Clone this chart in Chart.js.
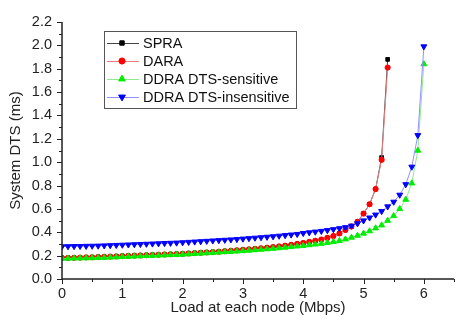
<!DOCTYPE html>
<html>
<head>
<meta charset="utf-8">
<script src="https://cdn.jsdelivr.net/npm/chart.js@4/dist/chart.umd.min.js"></script>
<style>
    html, body { margin: 0; padding: 0; background: #fff; }
    #wrap { width: 474px; height: 326px; }
</style>
</head>
<body>
<div id="wrap"><canvas id="chart" width="474" height="326"></canvas></div>
<script>
// load values (Mbps)
const loadsShort = [0.0, 0.1, 0.2, 0.3, 0.4, 0.5, 0.6, 0.7, 0.8, 0.9,
    1.0, 1.1, 1.2, 1.3, 1.4, 1.5, 1.6, 1.7, 1.8, 1.9,
    2.0, 2.1, 2.2, 2.3, 2.4, 2.5, 2.6, 2.7, 2.8, 2.9,
    3.0, 3.1, 3.2, 3.3, 3.4, 3.5, 3.6, 3.7, 3.8, 3.9,
    4.0, 4.1, 4.2, 4.3, 4.4, 4.5, 4.6, 4.7, 4.8, 4.9,
    5.0, 5.1, 5.2, 5.3, 5.4];
const loadsLong = [0.0, 0.1, 0.2, 0.3, 0.4, 0.5, 0.6, 0.7, 0.8, 0.9,
    1.0, 1.1, 1.2, 1.3, 1.4, 1.5, 1.6, 1.7, 1.8, 1.9,
    2.0, 2.1, 2.2, 2.3, 2.4, 2.5, 2.6, 2.7, 2.8, 2.9,
    3.0, 3.1, 3.2, 3.3, 3.4, 3.5, 3.6, 3.7, 3.8, 3.9,
    4.0, 4.1, 4.2, 4.3, 4.4, 4.5, 4.6, 4.7, 4.8, 4.9,
    5.0, 5.1, 5.2, 5.3, 5.4, 5.5, 5.6, 5.7, 5.8, 5.9, 6.0];

// system DTS (ms)
const spra = [0.180, 0.181, 0.182, 0.183, 0.185, 0.186, 0.188, 0.190, 0.192, 0.194,
    0.196, 0.198, 0.200, 0.202, 0.204, 0.206, 0.208, 0.210, 0.212, 0.214,
    0.216, 0.219, 0.222, 0.225, 0.228, 0.231, 0.234, 0.238, 0.242, 0.246,
    0.250, 0.254, 0.258, 0.263, 0.268, 0.273, 0.279, 0.285, 0.292, 0.300,
    0.308, 0.317, 0.327, 0.338, 0.352, 0.368, 0.390, 0.420, 0.450, 0.490,
    0.560, 0.640, 0.770, 1.040, 1.880];
const dara = [0.180, 0.181, 0.182, 0.183, 0.185, 0.186, 0.188, 0.190, 0.192, 0.194,
    0.196, 0.198, 0.200, 0.202, 0.204, 0.206, 0.208, 0.210, 0.212, 0.214,
    0.216, 0.219, 0.222, 0.225, 0.228, 0.231, 0.234, 0.238, 0.242, 0.246,
    0.250, 0.254, 0.258, 0.263, 0.268, 0.273, 0.279, 0.285, 0.292, 0.300,
    0.308, 0.317, 0.327, 0.338, 0.352, 0.368, 0.390, 0.420, 0.450, 0.490,
    0.560, 0.640, 0.770, 1.020, 1.810];
const ddraSens = [0.175, 0.176, 0.177, 0.178, 0.179, 0.180, 0.181, 0.183, 0.185, 0.187,
    0.190, 0.192, 0.194, 0.196, 0.198, 0.200, 0.202, 0.204, 0.206, 0.208,
    0.210, 0.213, 0.216, 0.219, 0.222, 0.225, 0.228, 0.231, 0.234, 0.237,
    0.240, 0.244, 0.248, 0.252, 0.256, 0.260, 0.265, 0.270, 0.275, 0.280,
    0.285, 0.291, 0.297, 0.303, 0.310, 0.318, 0.327, 0.340, 0.355, 0.372,
    0.390, 0.410, 0.435, 0.460, 0.500, 0.540, 0.600, 0.680, 0.820, 1.100, 1.840];
const ddraInsens = [0.278, 0.279, 0.280, 0.281, 0.282, 0.283, 0.284, 0.286, 0.288, 0.290,
    0.292, 0.294, 0.296, 0.298, 0.300, 0.302, 0.304, 0.306, 0.308, 0.310,
    0.313, 0.316, 0.319, 0.322, 0.325, 0.328, 0.331, 0.334, 0.337, 0.340,
    0.344, 0.348, 0.352, 0.356, 0.360, 0.364, 0.369, 0.374, 0.379, 0.384,
    0.392, 0.398, 0.404, 0.410, 0.417, 0.425, 0.433, 0.442, 0.455, 0.475,
    0.500, 0.525, 0.550, 0.580, 0.620, 0.660, 0.720, 0.810, 0.960, 1.230, 1.990];

const xTicks = [0, 1, 2, 3, 4, 5, 6];
const yTicks = [0.0, 0.2, 0.4, 0.6, 0.8, 1.0, 1.2, 1.4, 1.6, 1.8, 2.0, 2.2];

function pairs(xs, ys) {
    return ys.map((y, i) => ({ x: xs[i], y: y }));
}

const FONT = "'Liberation Sans', Arial, sans-serif";

// Axis lines, major/minor ticks drawn outward, and the boxed legend
const decorPlugin = {
    id: "decor",
    afterDraw(chart) {
        const ctx = chart.ctx;
        const area = chart.chartArea;
        const xs = chart.scales.x;
        const ys = chart.scales.y;
        ctx.save();
        ctx.strokeStyle = "#222";
        ctx.lineWidth = 1.5;
        ctx.beginPath();
        ctx.moveTo(area.left, area.top);
        ctx.lineTo(area.left, area.bottom);
        ctx.lineTo(area.right, area.bottom);
        ctx.stroke();

        ctx.lineWidth = 1;
        ctx.beginPath();
        for (let v = 0; v <= 6.5 + 1e-9; v += 0.5) {
            const px = Math.round(xs.getPixelForValue(v)) + 0.5;
            const len = Math.abs(v - Math.round(v)) < 1e-6 ? 5 : 3;
            ctx.moveTo(px, area.bottom);
            ctx.lineTo(px, area.bottom + len);
        }
        for (let v = 0; v <= 2.2 + 1e-9; v += 0.1) {
            const py = Math.round(ys.getPixelForValue(v)) + 0.5;
            const major = Math.abs(v * 5 - Math.round(v * 5)) < 1e-6;
            ctx.moveTo(area.left, py);
            ctx.lineTo(area.left - (major ? 5 : 3), py);
        }
        ctx.stroke();

        // legend
        const box = { left: 104, top: 31, width: 192, height: 77 };
        ctx.strokeStyle = "#555";
        ctx.lineWidth = 1;
        ctx.strokeRect(box.left + 0.5, box.top + 0.5, box.width, box.height);
        ctx.font = "14.5px " + FONT;
        ctx.textBaseline = "middle";
        const rows = [43, 61, 79, 97];
        chart.data.datasets.forEach((ds, i) => {
            const y = rows[i];
            ctx.strokeStyle = ds.borderColor;
            ctx.lineWidth = 1;
            ctx.beginPath();
            ctx.moveTo(107, y + 0.5);
            ctx.lineTo(139, y + 0.5);
            ctx.stroke();
            ctx.fillStyle = ds.pointBackgroundColor;
            ctx.strokeStyle = ds.pointBorderColor;
            Chart.helpers.drawPoint(ctx, {
                pointStyle: ds.pointStyle,
                radius: ds.pointRadius + 0.5,
                rotation: ds.pointRotation || 0,
                borderWidth: 1
            }, 122, y);
            ctx.fillStyle = "#111";
            ctx.fillText(ds.label, 143, y + 1);
        });
        ctx.restore();
    }
};

function markerColors(ds, c) {
    ds.pointBackgroundColor = c;
    ds.pointBorderColor = c;
    return ds;
}

new Chart(document.getElementById("chart"), {
    type: "scatter",
    data: {
        datasets: [
            markerColors({
                label: "SPRA",
                data: pairs(loadsShort, spra),
                borderColor: "#444444",
                pointStyle: "rect",
                pointRadius: 2.6,
                order: 4
            }, "#000000"),
            markerColors({
                label: "DARA",
                data: pairs(loadsShort, dara),
                borderColor: "#e88080",
                pointStyle: "circle",
                pointRadius: 2.6,
                order: 3
            }, "#ff0000"),
            markerColors({
                label: "DDRA DTS-sensitive",
                data: pairs(loadsLong, ddraSens),
                borderColor: "#90e890",
                pointStyle: "triangle",
                pointRadius: 3.4,
                order: 2
            }, "#00ee00"),
            markerColors({
                label: "DDRA DTS-insensitive",
                data: pairs(loadsLong, ddraInsens),
                borderColor: "#9090ff",
                pointStyle: "triangle",
                pointRotation: 180,
                pointRadius: 3.4,
                order: 1
            }, "#0000ff")
        ]
    },
    options: {
        responsive: false,
        animation: false,
        showLine: true,
        layout: { padding: { top: 22, right: 20, left: 0, bottom: 8 } },
        datasets: {
            scatter: { borderWidth: 1, pointBorderWidth: 1, pointHoverRadius: 3 }
        },
        plugins: {
            legend: { display: false },
            tooltip: { enabled: false }
        },
        scales: {
            x: {
                type: "linear",
                min: 0,
                max: 6.5,
                afterBuildTicks(scale) {
                    scale.ticks = xTicks.map(v => ({ value: v }));
                },
                afterFit(scale) { scale.height = 39; },
                grid: { display: false },
                border: { display: false },
                ticks: {
                    padding: -2,
                    color: "#222",
                    font: { family: FONT, size: 14.5 },
                    callback: v => String(v)
                },
                title: {
                    display: true,
                    text: "Load at each node (Mbps)",
                    color: "#222",
                    font: { family: FONT, size: 15 },
                    padding: { top: 0, bottom: 1 }
                }
            },
            y: {
                type: "linear",
                min: 0,
                max: 2.2,
                afterBuildTicks(scale) {
                    scale.ticks = yTicks.map(v => ({ value: v }));
                },
                afterFit(scale) { scale.width = 62; },
                grid: { display: false },
                border: { display: false },
                ticks: {
                    padding: 2,
                    color: "#222",
                    font: { family: FONT, size: 14.5 },
                    callback: v => Number(v).toFixed(1)
                },
                title: {
                    display: true,
                    text: "System DTS (ms)",
                    color: "#222",
                    font: { family: FONT, size: 15 },
                    padding: { top: 7, bottom: 0 }
                }
            }
        }
    },
    plugins: [decorPlugin]
});
</script>
</body>
</html>
